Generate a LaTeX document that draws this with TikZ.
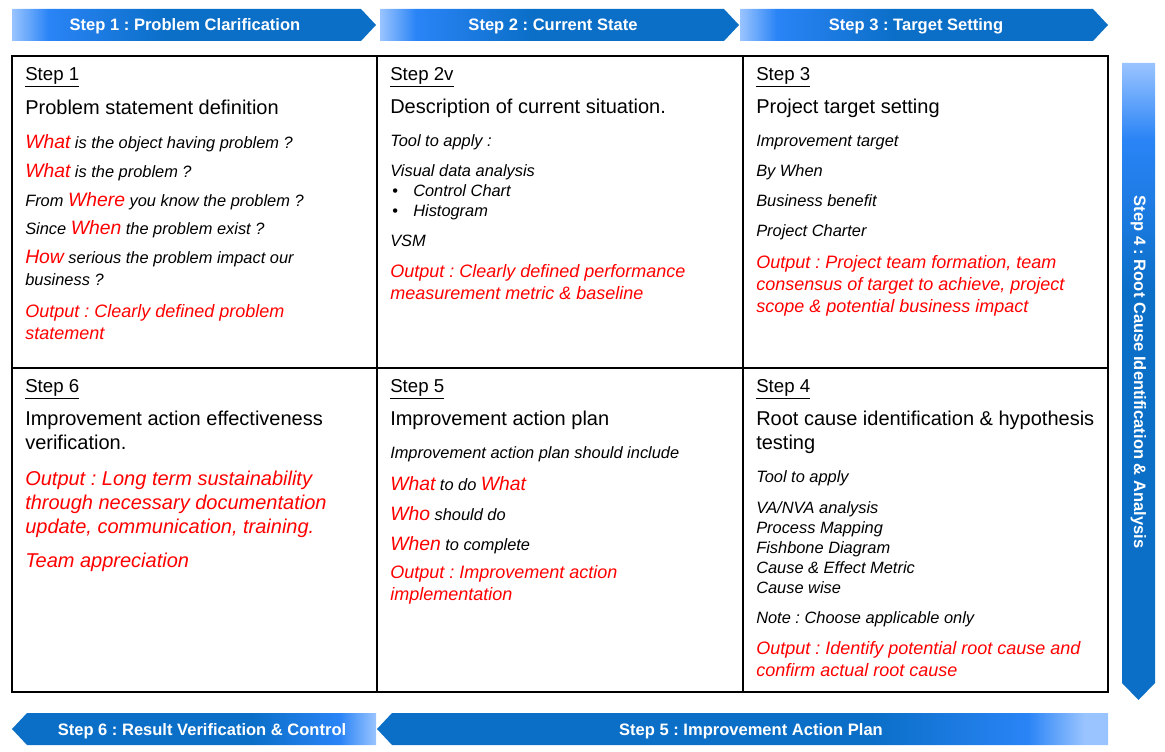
\documentclass[tikz,border=0pt]{standalone}
\usepackage{fontspec}
\setmainfont{Liberation Sans}
\definecolor{qred}{HTML}{FF0000}
\definecolor{darkb}{HTML}{0B6FC8}
\definecolor{brightb}{HTML}{2A84F6}
\definecolor{lightb}{HTML}{9AC4FF}
\pgfdeclarehorizontalshading{bandright}{100bp}{color(0bp)=(lightb); color(25bp)=(lightb); color(30bp)=(brightb); color(46bp)=(darkb); color(100bp)=(darkb)}
\pgfdeclarehorizontalshading{bandleftA}{100bp}{color(0bp)=(darkb); color(58bp)=(darkb); color(70bp)=(brightb); color(75bp)=(lightb); color(100bp)=(lightb)}
\pgfdeclarehorizontalshading{bandleftB}{100bp}{color(0bp)=(darkb); color(59bp)=(darkb); color(69.5bp)=(brightb); color(73.4bp)=(lightb); color(100bp)=(lightb)}
\pgfdeclareverticalshading{banddown}{100bp}{color(0bp)=(darkb); color(57bp)=(darkb); color(69bp)=(brightb); color(75bp)=(lightb); color(100bp)=(lightb)}
\newcommand{\qw}[1]{{\fontsize{14.5}{17}\selectfont\color{qred}#1}}
\tikzset{
    gridline/.style = {line width=1.5pt, draw=black},
    bandlbl/.style = {anchor=base, inner sep=0pt, text=white, font=\fontsize{12.4}{14}\selectfont\bfseries},
    stephead/.style = {anchor=base west, inner sep=0pt, font=\fontsize{14}{16}\selectfont},
    ttl/.style = {anchor=base west, inner sep=0pt, font=\fontsize{15}{18}\selectfont},
    txt/.style = {anchor=base west, inner sep=0pt, font=\fontsize{12.3}{15}\selectfont\itshape},
    bull/.style = {anchor=base west, inner sep=0pt, font=\fontsize{12.3}{15}\selectfont},
    outp/.style = {anchor=base west, inner sep=0pt, text=qred, font=\fontsize{13.5}{16}\selectfont\itshape},
    outpb/.style = {outp, font=\fontsize{15}{18}\selectfont\itshape}
}
\frenchspacing
\begin{document}
\begin{tikzpicture}[x=0.75pt,y=-0.75pt]
  \useasboundingbox (0,0) rectangle (1165,752);

  % top bands
  \shade[shading=bandright] (12,9) -- (361,9) -- (376,25) -- (361,41) -- (12,41) -- cycle;
  \shade[shading=bandright] (380,9) -- (724,9) -- (739,25) -- (724,41) -- (380,41) -- cycle;
  \shade[shading=bandright] (740,9) -- (1093,9) -- (1108,25) -- (1093,41) -- (740,41) -- cycle;
  \node[bandlbl] (b1) at (185,31) {Step 1 : Problem Clarification};
  \node[bandlbl] (b2) at (553,31) {Step 2 : Current State};
  \node[bandlbl] (b3) at (916,31) {Step 3 : Target Setting};

  % side band
  \shade[shading=banddown] (1122,63) -- (1155,63) -- (1155,683) -- (1138.5,700) -- (1122,683) -- cycle;
  \node[bandlbl, anchor=center, rotate=-90] (b4) at (1138.5,372) {Step 4 : Root Cause Identification \& Analysis};

  % bottom bands
  \shade[shading=bandleftA] (12,729) -- (27,713) -- (376,713) -- (376,745) -- (27,745) -- cycle;
  \shade[shading=bandleftB] (377,729) -- (392,713) -- (1108,713) -- (1108,745) -- (392,745) -- cycle;
  \node[bandlbl] (b6) at (202,735) {Step 6 : Result Verification \& Control};
  \node[bandlbl] (b5) at (751,735) {Step 5 : Improvement Action Plan};

  % grid
  \draw[gridline] (12,56) rectangle (1108,692);
  \draw[gridline] (377,56) -- (377,692);
  \draw[gridline] (743,56) -- (743,692);
  \draw[gridline] (12,368) -- (1108,368);

  % step 1
  \node[stephead] (h1) at (25,81) {\underline{Step 1}};
  \node[ttl] (t1) at (25,115) {Problem statement definition};
  \node[txt] (q1a) at (25,149) {\qw{What} is the object having problem ?};
  \node[txt] (q1b) at (25,178) {\qw{What} is the problem ?};
  \node[txt] (q1c) at (25,207) {From \qw{Where} you know the problem ?};
  \node[txt] (q1d) at (25,235) {Since \qw{When} the problem exist ?};
  \node[txt] (q1e) at (25,264) {\qw{How} serious the problem impact our};
  \node[txt] (q1f) at (25,286) {business ?};
  \node[outp] (o1a) at (25,318) {Output : Clearly defined problem};
  \node[outp] (o1b) at (25,340) {statement};

  % step 2
  \node[stephead] (h2) at (390,81) {\underline{Step 2v}};
  \node[ttl] (t2) at (390,114) {Description of current situation.};
  \node[txt] (a2) at (390,147) {Tool to apply :};
  \node[txt] (b2l) at (390,177) {Visual data analysis};
  \node[bull] (c2b) at (392,197) {\textbullet};
  \node[txt] (c2) at (413,197) {Control Chart};
  \node[bull] (d2b) at (392,217) {\textbullet};
  \node[txt] (d2) at (413,217) {Histogram};
  \node[txt] (e2) at (390,247) {VSM};
  \node[outp] (o2a) at (390,278) {Output : Clearly defined performance};
  \node[outp] (o2b) at (390,300) {measurement metric \& baseline};

  % step 3
  \node[stephead] (h3) at (756,81) {\underline{Step 3}};
  \node[ttl] (t3) at (756,114) {Project target setting};
  \node[txt] (a3) at (756,147) {Improvement target};
  \node[txt] (b3l) at (756,177) {By When};
  \node[txt] (c3) at (756,207) {Business benefit};
  \node[txt] (d3) at (756,237) {Project Charter};
  \node[outp] (o3a) at (756,269) {Output : Project team formation, team};
  \node[outp] (o3b) at (756,291) {consensus of target to achieve, project};
  \node[outp] (o3c) at (756,313) {scope \& potential business impact};

  % step 6
  \node[stephead] (h6) at (25,393) {\underline{Step 6}};
  \node[ttl] (t6a) at (25,426) {Improvement action effectiveness};
  \node[ttl] (t6b) at (25,450) {verification.};
  \node[outpb] (o6a) at (25,485) {Output : Long term sustainability};
  \node[outpb] (o6b) at (25,509) {through necessary documentation};
  \node[outpb] (o6c) at (25,533) {update, communication, training.};
  \node[outpb] (o6d) at (25,567) {Team appreciation};

  % step 5
  \node[stephead] (h5) at (390,393) {\underline{Step 5}};
  \node[ttl] (t5) at (390,426) {Improvement action plan};
  \node[txt] (a5) at (390,459) {Improvement action plan should include};
  \node[txt] (q5a) at (390,491) {\qw{What} to do \qw{What}};
  \node[txt] (q5b) at (390,520) {\qw{Who} should do};
  \node[txt] (q5c) at (390,550) {\qw{When} to complete};
  \node[outp] (o5a) at (390,578) {Output : Improvement action};
  \node[outp] (o5b) at (390,600) {implementation};

  % step 4
  \node[stephead] (h4) at (756,393) {\underline{Step 4}};
  \node[ttl] (t4a) at (756,426) {Root cause identification \& hypothesis};
  \node[ttl] (t4b) at (756,450) {testing};
  \node[txt] (a4) at (756,483) {Tool to apply};
  \node[txt] (b4a) at (756,513) {VA/NVA analysis};
  \node[txt] (b4b) at (756,533) {Process Mapping};
  \node[txt] (b4c) at (756,553) {Fishbone Diagram};
  \node[txt] (b4d) at (756,573) {Cause \& Effect Metric};
  \node[txt] (b4e) at (756,593) {Cause wise};
  \node[txt] (n4) at (756,623) {Note : Choose applicable only};
  \node[outp] (o4a) at (756,654) {Output : Identify potential root cause and};
  \node[outp] (o4b) at (756,676) {confirm actual root cause};
\end{tikzpicture}
\end{document}
